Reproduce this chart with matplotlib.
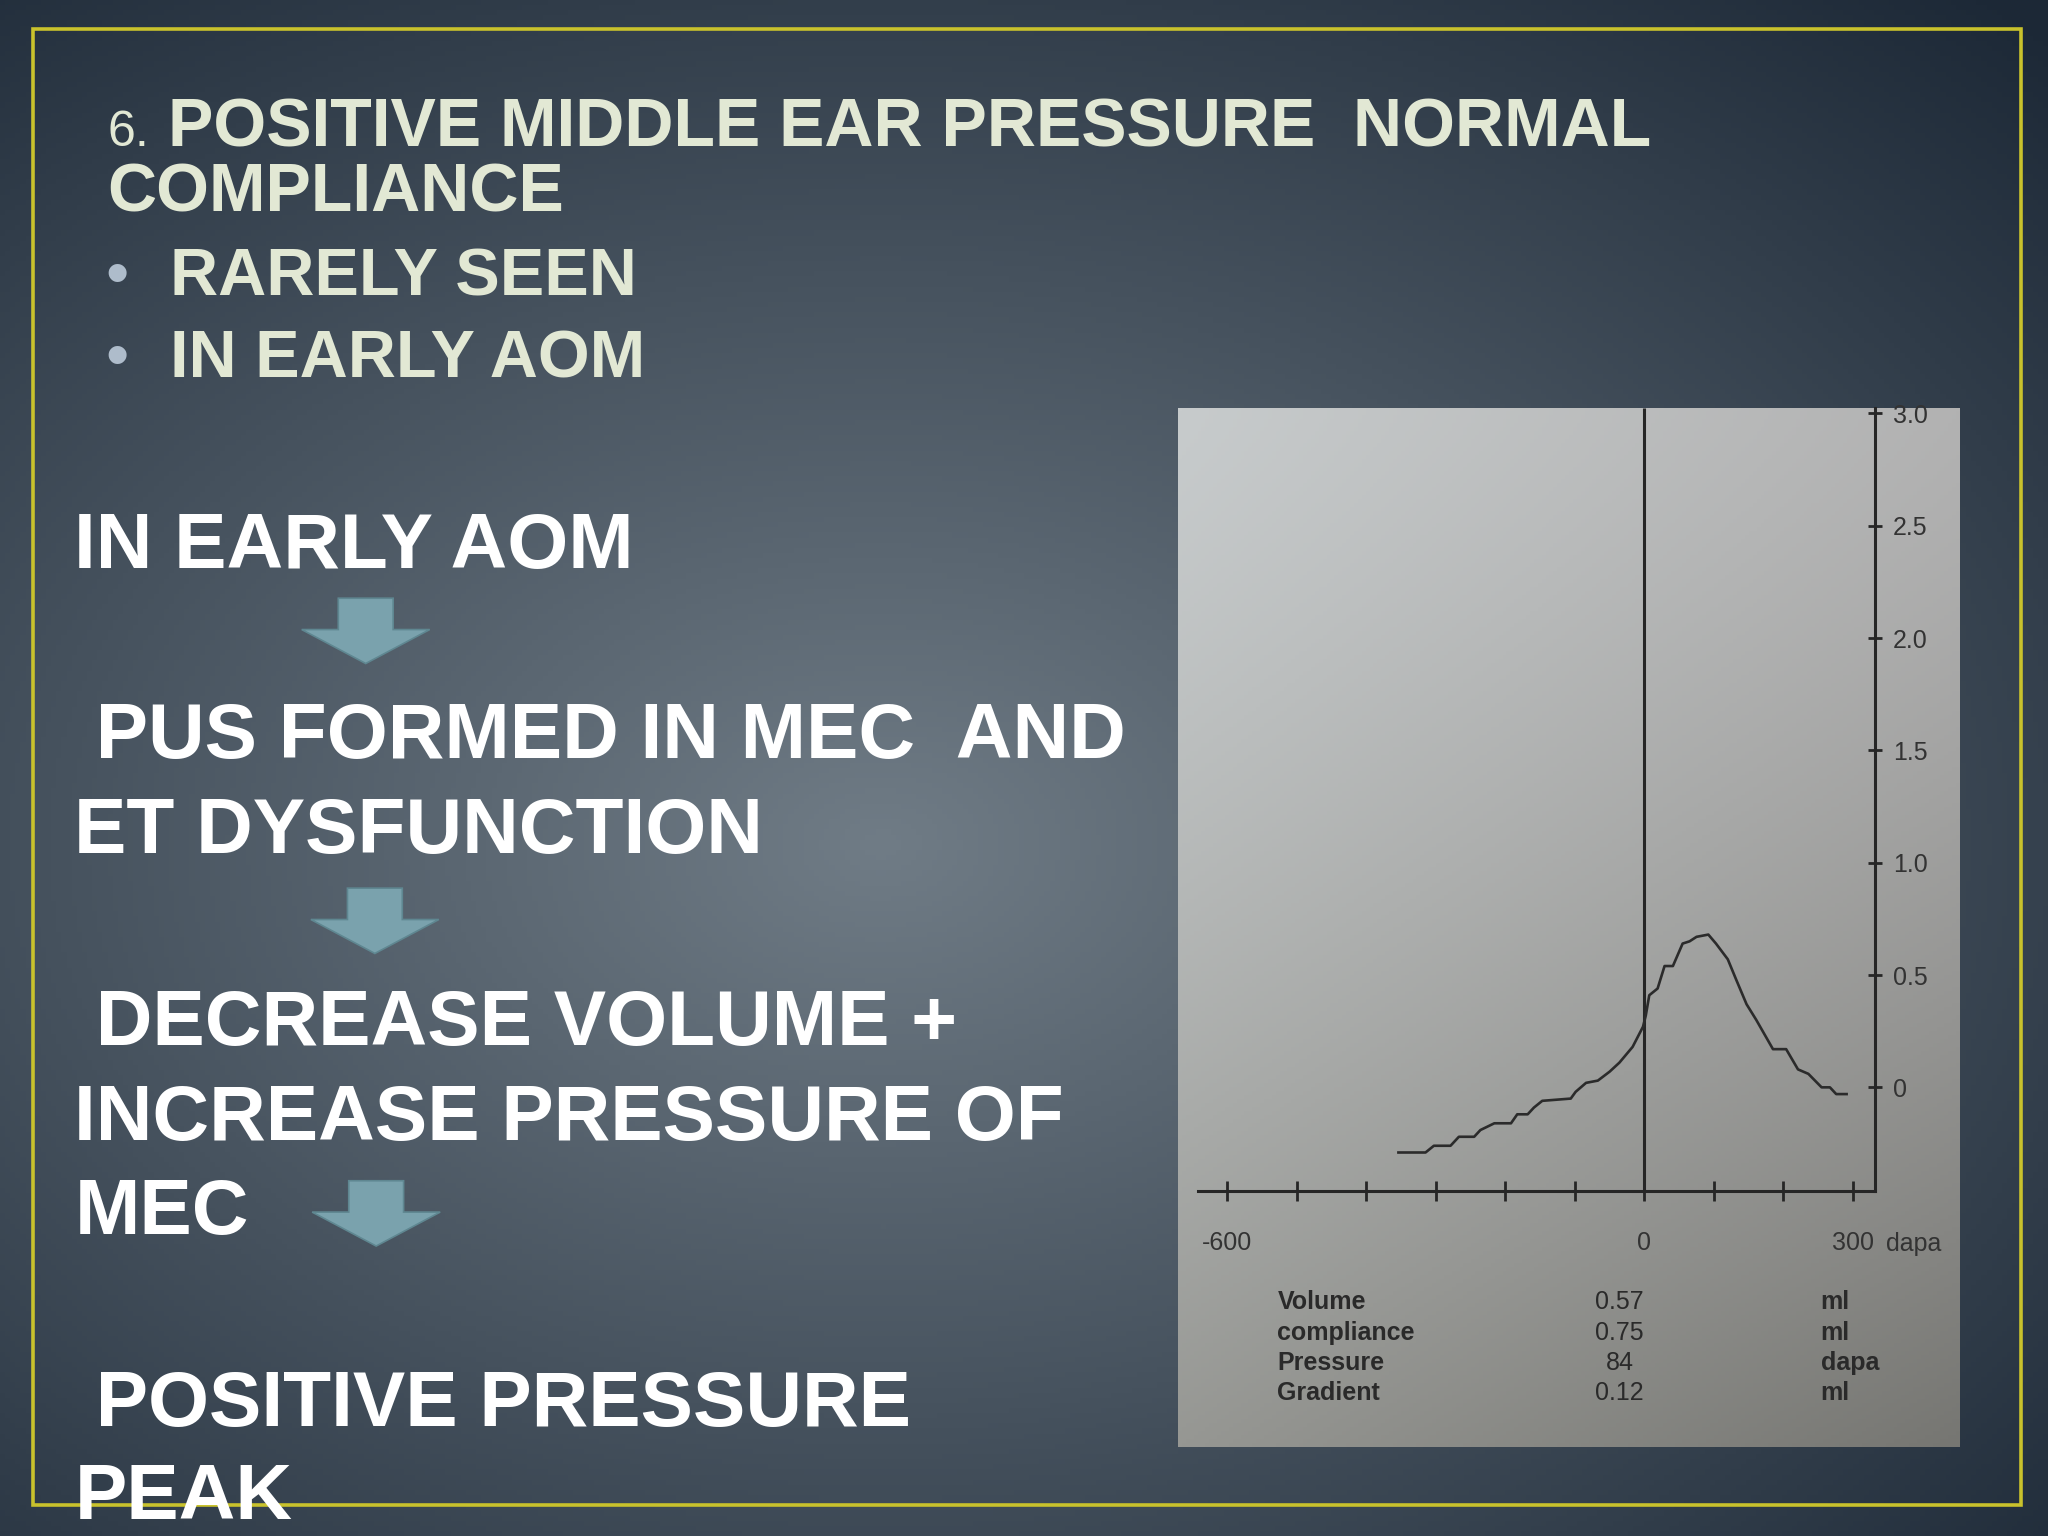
import numpy as np
import matplotlib.pyplot as plt
from matplotlib.patches import Polygon, Rectangle

plt.rcParams['font.family'] = ['Liberation Sans', 'DejaVu Sans']

# tympanogram trace
pressure_dapa = [-354, -315, -303, -279, -267, -245, -236, -216, -192, -183, -168,
                 -159, -147, -106, -99, -84, -67, -50, -36, -17, -2, 2, 7, 19, 29,
                 41, 55, 65, 75, 92, 103, 120, 132, 147, 161, 185, 204, 221, 236,
                 255, 267, 276, 291]
compliance_ml = [-0.29, -0.29, -0.26, -0.26, -0.22, -0.22, -0.19, -0.16, -0.16,
                 -0.12, -0.12, -0.09, -0.06, -0.05, -0.02, 0.02, 0.03, 0.07, 0.11,
                 0.18, 0.27, 0.32, 0.41, 0.44, 0.54, 0.54, 0.64, 0.65, 0.67, 0.68,
                 0.64, 0.57, 0.48, 0.37, 0.30, 0.17, 0.17, 0.08, 0.06, 0.00, 0.00,
                 -0.03, -0.03]

x_ticks = [-600, -500, -400, -300, -200, -100, 0, 100, 200, 300]
x_tick_labels = ['-600', '', '', '', '', '', '0', '', '', '300']
y_ticks = [0, 0.5, 1.0, 1.5, 2.0, 2.5, 3.0]
y_tick_labels = ['0', '0.5', '1.0', '1.5', '2.0', '2.5', '3.0']

stat_names = ['Volume', 'compliance', 'Pressure', 'Gradient']
stat_values = ['0.57', '0.75', '84', '0.12']
stat_units = ['ml', 'ml', 'dapa', 'ml']

title_number = '6.'
title_lines = ['POSITIVE MIDDLE EAR PRESSURE  NORMAL', 'COMPLIANCE']
bullets = ['RARELY SEEN', 'IN EARLY AOM']
body_lines = ['IN EARLY AOM', ' PUS FORMED IN MEC  AND', 'ET DYSFUNCTION',
              ' DECREASE VOLUME +', 'INCREASE PRESSURE OF', 'MEC',
              ' POSITIVE PRESSURE', 'PEAK']

# slide layout works on a 1568 x 1176 grid
W, H = 1568, 1176
fig = plt.figure(figsize=(20.48, 15.36), dpi=100)

bg = fig.add_axes([0, 0, 1, 1])
bg.set_xlim(0, W)
bg.set_ylim(H, 0)
bg.axis('off')

# radial slide background
gx, gy = np.meshgrid(np.linspace(0, 1, 400), np.linspace(0, 1, 300))
r = np.sqrt(((gx - 0.43) / 0.74) ** 2 + ((gy - 0.55) / 0.68) ** 2)
t = np.clip(r, 0, 1.1) / 1.1
light = np.array([112, 124, 134]) / 255
dark = np.array([28, 40, 54]) / 255
img = light * (1 - t[..., None]) + dark * t[..., None]
bg.imshow(img, extent=(0, W, H, 0), aspect='auto', zorder=0)

bg.add_patch(Rectangle((25, 22), 1522, 1130, fill=False, ec='#c9c22c', lw=2.6, zorder=2))

cream = '#e2e8d4'
bg.text(82, 112, title_number, fontsize=36, color=cream, zorder=3)
bg.text(129, 112, title_lines[0], fontsize=49, fontweight='bold', color=cream, zorder=3)
bg.text(82, 162, title_lines[1], fontsize=49, fontweight='bold', color=cream, zorder=3)
for i, b in enumerate(bullets):
    base = 226 + i * 63
    bg.text(81, base, '\u2022', fontsize=48, color='#aebccb', zorder=3)
    bg.text(130, base, b, fontsize=48, fontweight='bold', color=cream, zorder=3)

body_base = [435, 580, 653, 800, 873, 945, 1092, 1163]
for line, base in zip(body_lines, body_base):
    bg.text(57, base, line, fontsize=56.5, fontweight='bold', color='white', zorder=4)


def down_arrow(cx, top):
    pts = [(cx - 21, top), (cx + 21, top), (cx + 21, top + 24), (cx + 49, top + 24),
           (cx, top + 50), (cx - 49, top + 24), (cx - 21, top + 24)]
    bg.add_patch(Polygon(pts, closed=True, fc='#7aa2ad', ec='#5f8791', lw=1.2, zorder=3))


down_arrow(280, 458)
down_arrow(287, 680)
down_arrow(288, 904)

# photographed tympanogram
px0, px1, py0, py1 = 902, 1500, 312, 1108
ax = fig.add_axes([px0 / W, 1 - py1 / H, (px1 - px0) / W, (py1 - py0) / H])


def to_dapa(v):
    return (v - 1259) / 0.532


def to_ml(v):
    return (832.5 - v) / 172


xl = (to_dapa(px0), to_dapa(px1))
yl = (to_ml(py1), to_ml(py0))

pgx, pgy = np.meshgrid(np.linspace(0, 1, 200), np.linspace(0, 1, 260))
tl = np.array([199, 203, 204]) / 255
tr = np.array([178, 178, 178]) / 255
bl = np.array([150, 151, 147]) / 255
br = np.array([118, 118, 114]) / 255
top_row = tl * (1 - pgx[..., None]) + tr * pgx[..., None]
bot_row = bl * (1 - pgx[..., None]) + br * pgx[..., None]
w = pgy[..., None] ** 1.3
pimg = top_row * (1 - w) + bot_row * w
ax.imshow(pimg, extent=(xl[0], xl[1], yl[0], yl[1]), aspect='auto', zorder=0)
ax.set_xlim(*xl)
ax.set_ylim(*yl)

ink = '#262626'
x_axis_at = to_ml(912)
y_axis_at = 332
for s in ['top', 'left']:
    ax.spines[s].set_visible(False)
ax.spines['bottom'].set_position(('data', x_axis_at))
ax.spines['bottom'].set_bounds(-643, y_axis_at)
ax.spines['right'].set_position(('data', y_axis_at))
ax.spines['right'].set_bounds(x_axis_at, yl[1])
for s in ['bottom', 'right']:
    ax.spines[s].set_color(ink)
    ax.spines[s].set_linewidth(2.2)
ax.xaxis.tick_bottom()
ax.yaxis.tick_right()
ax.set_xticks(x_ticks, x_tick_labels)
ax.set_yticks(y_ticks, y_tick_labels)
ax.tick_params(axis='x', direction='inout', length=14, width=2, color=ink,
               pad=22, labelsize=18, labelcolor='#333333')
ax.tick_params(axis='y', direction='inout', length=9.5, width=2, color=ink,
               pad=8, labelsize=18, labelcolor='#333333')

ax.vlines(0, x_axis_at, yl[1], color=ink, lw=2.2, zorder=2)
ax.plot(pressure_dapa, compliance_ml, color='#2b2b2b', lw=1.9, zorder=3)

ax.text(to_dapa(1444), to_ml(943), 'dapa', fontsize=18, color='#333333', va='top')

row_base = [1002, 1026, 1049, 1072]
for name, val, unit, base in zip(stat_names, stat_values, stat_units, row_base):
    yb = to_ml(base)
    ax.text(to_dapa(978), yb, name, fontsize=18, fontweight='bold', color='#2a2a2a', va='baseline')
    ax.text(to_dapa(1240), yb, val, fontsize=18, color='#2a2a2a', va='baseline', ha='center')
    ax.text(to_dapa(1394), yb, unit, fontsize=18, fontweight='bold', color='#2a2a2a', va='baseline')

fig.savefig('out.png', dpi=100)
